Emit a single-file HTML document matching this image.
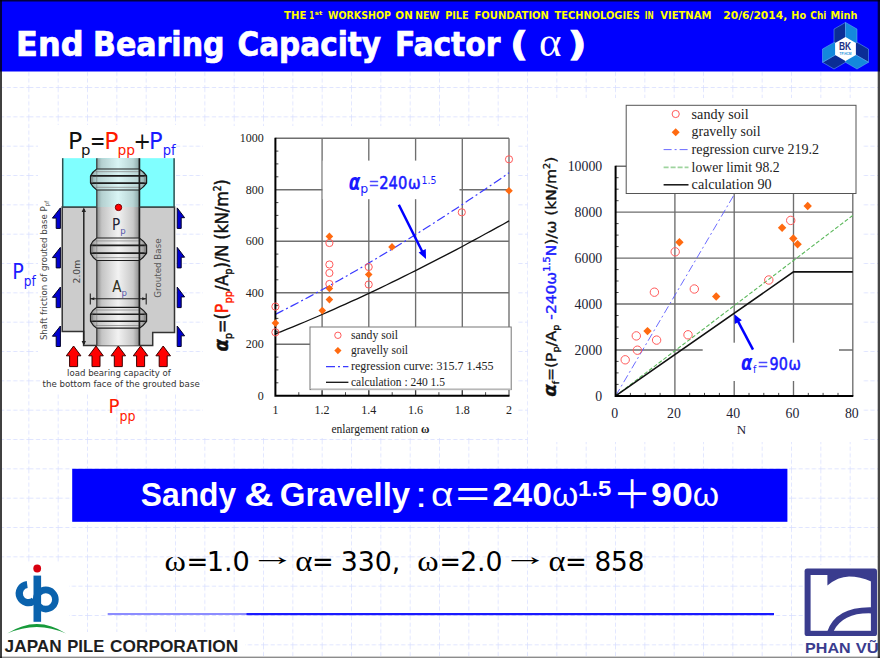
<!DOCTYPE html>
<html lang="en"><head><meta charset="utf-8"><title>End Bearing Capacity Factor</title>
<style>html,body{margin:0;padding:0;background:#fff;overflow:hidden}svg{display:block}.t{font-family:"DejaVu Sans Condensed","DejaVu Sans","Liberation Sans",sans-serif}.w{font-family:"DejaVu Sans","Liberation Sans",sans-serif}.l{font-family:"Liberation Sans",sans-serif}.s{font-family:"Liberation Serif",serif}.j{font-family:"Liberation Sans","Noto Sans CJK JP",sans-serif}</style></head><body>
<svg width="880" height="658" viewBox="0 0 880 658">
<defs>
<linearGradient id="pile" x1="0" x2="1" y1="0" y2="0"><stop offset="0" stop-color="#8c8c8c"/><stop offset="0.12" stop-color="#c4c4c4"/><stop offset="0.5" stop-color="#f2f2f2"/><stop offset="0.85" stop-color="#c8c8c8"/><stop offset="1" stop-color="#8a8a8a"/></linearGradient>
<linearGradient id="hl" x1="0" x2="1" y1="0" y2="0"><stop offset="0" stop-color="#fff"/><stop offset="0.18" stop-color="#c9c9ff"/><stop offset="0.45" stop-color="#2a2aff"/><stop offset="1" stop-color="#0000ff"/></linearGradient>
<pattern id="grid" width="29.333" height="29.333" patternUnits="userSpaceOnUse"><path d="M29.2 0V29.333M0 29.2H29.333" stroke="#d6ddff" stroke-width="1.1" stroke-dasharray="4.2 2.4" fill="none"/></pattern>
</defs>
<rect width="880" height="658" fill="#fff"/>
<rect x="2" y="72" width="876" height="584" fill="url(#grid)"/>
<rect x="0" y="0" width="880" height="71.5" fill="#0000fe"/>
<text class="w" x="284.10" y="18.60" font-size="9.8" fill="#ffff00" font-weight="bold" textLength="22.25" lengthAdjust="spacingAndGlyphs">THE</text>
<text class="w" x="309.19" y="18.60" font-size="9.8" fill="#ffff00" font-weight="bold" textLength="4.88" lengthAdjust="spacingAndGlyphs">1</text>
<text class="w" x="328.06" y="18.60" font-size="9.8" fill="#ffff00" font-weight="bold" textLength="62.88" lengthAdjust="spacingAndGlyphs">WORKSHOP</text>
<text class="w" x="395.37" y="18.60" font-size="9.8" fill="#ffff00" font-weight="bold" textLength="17.44" lengthAdjust="spacingAndGlyphs">ON</text>
<text class="w" x="415.17" y="18.60" font-size="9.8" fill="#ffff00" font-weight="bold" textLength="24.22" lengthAdjust="spacingAndGlyphs">NEW</text>
<text class="w" x="445.13" y="18.60" font-size="9.8" fill="#ffff00" font-weight="bold" textLength="23.51" lengthAdjust="spacingAndGlyphs">PILE</text>
<text class="w" x="474.40" y="18.60" font-size="9.8" fill="#ffff00" font-weight="bold" textLength="74.61" lengthAdjust="spacingAndGlyphs">FOUNDATION</text>
<text class="w" x="554.60" y="18.60" font-size="9.8" fill="#ffff00" font-weight="bold" textLength="85.27" lengthAdjust="spacingAndGlyphs">TECHNOLOGIES</text>
<text class="w" x="644.74" y="18.60" font-size="9.8" fill="#ffff00" font-weight="bold" textLength="8.96" lengthAdjust="spacingAndGlyphs">IN</text>
<text class="w" x="660.20" y="18.60" font-size="9.8" fill="#ffff00" font-weight="bold" textLength="51.19" lengthAdjust="spacingAndGlyphs">VIETNAM</text>
<text class="w" x="723.28" y="18.60" font-size="9.8" fill="#ffff00" font-weight="bold" textLength="63.94" lengthAdjust="spacingAndGlyphs">20/6/2014,</text>
<text class="w" x="791.33" y="18.60" font-size="9.8" fill="#ffff00" font-weight="bold" textLength="14.75" lengthAdjust="spacingAndGlyphs">Ho</text>
<text class="w" x="810.34" y="18.60" font-size="9.8" fill="#ffff00" font-weight="bold" textLength="16.01" lengthAdjust="spacingAndGlyphs">Chi</text>
<text class="w" x="830.52" y="18.60" font-size="9.8" fill="#ffff00" font-weight="bold" textLength="26.95" lengthAdjust="spacingAndGlyphs">Minh</text>
<text class="w" x="314.89" y="14.60" font-size="5.6" fill="#ffff00" font-weight="bold" textLength="7.56" lengthAdjust="spacingAndGlyphs">st</text>
<text class="t" x="16.13" y="56.30" font-size="34" fill="#fff" font-weight="bold" textLength="67.36" lengthAdjust="spacingAndGlyphs" stroke="#fff" stroke-width="0.7">End</text>
<text class="t" x="93.10" y="56.30" font-size="34" fill="#fff" font-weight="bold" textLength="131.42" lengthAdjust="spacingAndGlyphs" stroke="#fff" stroke-width="0.7">Bearing</text>
<text class="t" x="237.55" y="56.30" font-size="34" fill="#fff" font-weight="bold" textLength="143.57" lengthAdjust="spacingAndGlyphs" stroke="#fff" stroke-width="0.7">Capacity</text>
<text class="t" x="395.03" y="56.30" font-size="34" fill="#fff" font-weight="bold" textLength="105.31" lengthAdjust="spacingAndGlyphs" stroke="#fff" stroke-width="0.7">Factor</text>
<text class="t" x="509.97" y="56.30" font-size="34" fill="#fff" font-weight="bold" textLength="18.27" lengthAdjust="spacingAndGlyphs" stroke="#fff" stroke-width="0.7">(</text>
<text class="t" x="567.56" y="56.30" font-size="34" fill="#fff" font-weight="bold" textLength="19.22" lengthAdjust="spacingAndGlyphs" stroke="#fff" stroke-width="0.7">)</text>
<text class="s" x="539.03" y="55.60" font-size="41" fill="#fff" textLength="22.46" lengthAdjust="spacingAndGlyphs">α</text>
<g stroke="#6fb7f5" stroke-width="0.5" stroke-linejoin="round">
<polygon points="845.5,22.4 834.0,29.1 834.0,42.4 845.5,49.0" fill="#0b2d96"/>
<polygon points="845.5,22.4 857.0,29.1 857.0,42.4 845.5,49.0" fill="#1488dc"/>
<polygon points="868.5,62.3 868.5,49.0 857.0,42.3 845.5,49.0" fill="#0b2d96"/>
<polygon points="868.5,62.3 857.0,69.0 845.5,62.3 845.5,49.0" fill="#1488dc"/>
<polygon points="822.5,62.3 834.0,69.0 845.5,62.3 845.5,49.0" fill="#0b2d96"/>
<polygon points="822.5,62.3 822.5,49.0 834.0,42.4 845.5,49.0" fill="#1488dc"/>
</g>
<polygon points="845.5,37.0 855.9,43.0 855.9,55.0 845.5,61.0 835.1,55.0 835.1,43.0" fill="#fff"/>
<text class="l" x="838.89" y="50.00" font-size="10.4" fill="#1c2f86" font-weight="bold" textLength="12.20" lengthAdjust="spacingAndGlyphs">BK</text>
<text class="l" x="839.60" y="54.60" font-size="3.4" fill="#2a93dd" font-weight="bold" textLength="11.92" lengthAdjust="spacingAndGlyphs">TP.HCM</text>
<rect x="38" y="125" width="138" height="242" fill="#fff"/><rect x="42" y="366" width="158" height="26" fill="#fff"/>
<text class="t" x="67.96" y="148.70" font-size="22.5" fill="#111" textLength="14.26" lengthAdjust="spacingAndGlyphs">P</text>
<text class="t" x="81.12" y="155.30" font-size="14.5" fill="#111" textLength="9.43" lengthAdjust="spacingAndGlyphs">p</text>
<text class="t" x="90.07" y="148.70" font-size="22.5" fill="#111" textLength="15.43" lengthAdjust="spacingAndGlyphs">=</text>
<text class="t" x="104.36" y="148.70" font-size="22.5" fill="#ff1a00" textLength="14.26" lengthAdjust="spacingAndGlyphs">P</text>
<text class="t" x="117.61" y="155.30" font-size="14.5" fill="#ff1a00" textLength="17.52" lengthAdjust="spacingAndGlyphs">pp</text>
<text class="t" x="133.52" y="148.70" font-size="22.5" fill="#111" textLength="17.43" lengthAdjust="spacingAndGlyphs">+</text>
<text class="t" x="149.07" y="148.70" font-size="22.5" fill="#1a1aff" textLength="13.62" lengthAdjust="spacingAndGlyphs">P</text>
<text class="t" x="162.68" y="155.30" font-size="14.5" fill="#1a1aff" textLength="12.87" lengthAdjust="spacingAndGlyphs">pf</text>
<path d="M62.2 207 H174.5 V332.5 H152.7 V345.5 H83.6 V331.5 H62.2 Z" fill="#cccccc" stroke="#333" stroke-width="1.5"/>
<rect x="62.2" y="158.2" width="112.3" height="48.8" fill="#80ffff"/>
<rect x="96.7" y="158.2" width="42.9" height="187.3" fill="url(#pile)"/>
<path d="M96.8 169.0 L139.3 169.0 Q143.5 171.6 146.6 175.9 L146.6 183.1 Q143.5 187.4 139.3 190.0 L96.8 190.0 Q92.6 187.4 90.5 183.1 L90.5 175.9 Q92.6 171.6 96.8 169.0 Z" fill="url(#pile)"/>
<rect x="62.2" y="158.2" width="112.3" height="48.8" fill="#80ffff" fill-opacity="0.22"/>
<path d="M96.8 169.0 L139.3 169.0 Q143.5 171.6 146.6 175.9 L146.6 183.1 Q143.5 187.4 139.3 190.0 L96.8 190.0 Q92.6 187.4 90.5 183.1 L90.5 175.9 Q92.6 171.6 96.8 169.0 Z" fill="none" stroke="#1c1c1c" stroke-width="1.2" stroke-linejoin="round"/>
<path d="M95.3 171.7 H140.8 M95.3 187.3 H140.8" stroke="#8a8a8a" stroke-width="0.8" fill="none"/>
<path d="M90.5 175.9 H146.6 M90.5 183.1 H146.6" stroke="#1c1c1c" stroke-width="1.6" fill="none"/>
<path d="M92.1 175.9 V183.1 M145.0 175.9 V183.1" stroke="#777" stroke-width="0.8" fill="none"/>
<path d="M96.8 238.0 L139.3 238.0 Q143.5 240.6 146.6 245.4 L146.6 253.1 Q143.5 257.9 139.3 260.5 L96.8 260.5 Q92.6 257.9 90.5 253.1 L90.5 245.4 Q92.6 240.6 96.8 238.0 Z" fill="url(#pile)"/>
<path d="M96.8 238.0 L139.3 238.0 Q143.5 240.6 146.6 245.4 L146.6 253.1 Q143.5 257.9 139.3 260.5 L96.8 260.5 Q92.6 257.9 90.5 253.1 L90.5 245.4 Q92.6 240.6 96.8 238.0 Z" fill="none" stroke="#1c1c1c" stroke-width="1.2" stroke-linejoin="round"/>
<path d="M95.3 240.9 H140.8 M95.3 257.6 H140.8" stroke="#8a8a8a" stroke-width="0.8" fill="none"/>
<path d="M90.5 245.4 H146.6 M90.5 253.1 H146.6" stroke="#1c1c1c" stroke-width="1.6" fill="none"/>
<path d="M92.1 245.4 V253.1 M145.0 245.4 V253.1" stroke="#777" stroke-width="0.8" fill="none"/>
<path d="M96.8 307.3 L139.3 307.3 Q143.5 309.9 146.6 314.2 L146.6 321.3 Q143.5 325.6 139.3 328.2 L96.8 328.2 Q92.6 325.6 90.5 321.3 L90.5 314.2 Q92.6 309.9 96.8 307.3 Z" fill="url(#pile)"/>
<path d="M96.8 307.3 L139.3 307.3 Q143.5 309.9 146.6 314.2 L146.6 321.3 Q143.5 325.6 139.3 328.2 L96.8 328.2 Q92.6 325.6 90.5 321.3 L90.5 314.2 Q92.6 309.9 96.8 307.3 Z" fill="none" stroke="#1c1c1c" stroke-width="1.2" stroke-linejoin="round"/>
<path d="M95.3 310.0 H140.8 M95.3 325.5 H140.8" stroke="#8a8a8a" stroke-width="0.8" fill="none"/>
<path d="M90.5 314.2 H146.6 M90.5 321.3 H146.6" stroke="#1c1c1c" stroke-width="1.6" fill="none"/>
<path d="M92.1 314.2 V321.3 M145.0 314.2 V321.3" stroke="#777" stroke-width="0.8" fill="none"/>
<path d="M96.8 158.2V169M96.8 190V238M96.8 260.5V307.3M96.8 328.2V345.5" stroke="#333" stroke-width="1.2" fill="none"/>
<path d="M96.8 169V190M96.8 238V260.5M96.8 307.3V328.2" stroke="#555" stroke-width="0.8" stroke-opacity="0.5" fill="none"/>
<line x1="139.4" y1="158.2" x2="139.4" y2="345.5" stroke="#1c1c1c" stroke-width="1.7"/>
<line x1="62.7" y1="158.2" x2="62.7" y2="207" stroke="#2f4f4f" stroke-width="1.5"/>
<line x1="174.1" y1="158.2" x2="174.1" y2="207" stroke="#2f4f4f" stroke-width="1.5"/>
<line x1="62.2" y1="207" x2="96.7" y2="207" stroke="#3a4a4a" stroke-width="1.4"/>
<line x1="139.6" y1="207" x2="174.5" y2="207" stroke="#3a4a4a" stroke-width="1.4"/>
<circle cx="118.5" cy="207.4" r="3.2" fill="#ff0000" stroke="#7a0000" stroke-width="1"/>
<text class="t" x="112" y="229.5" font-size="15" fill="#223">P<tspan font-size="9.5" dy="4" fill="#55a">p</tspan></text>
<text class="t" x="112.3" y="291.8" font-size="15" fill="#332">A<tspan font-size="9.5" dy="4" fill="#55a">p</tspan></text>
<line x1="83.8" y1="209" x2="83.8" y2="344" stroke="#222" stroke-width="1.5"/>
<path d="M83.8 207.5 l-2.2 4.5 h4.4z M83.8 345.5 l-2.2 -4.5 h4.4z" fill="#222"/>
<path d="M90 298.7 H146.4 M90.3 293.6 V304.5 M146.2 293.6 V304.5" stroke="#222" stroke-width="1.1" fill="none"/>
<path d="M90.3 298.7 l4 -1.5 v3z M146.2 298.7 l-4 -1.5 v3z" fill="#222"/>
<text class="t" transform="translate(80.00,283.47) rotate(-90)" font-size="9.5" fill="#444" textLength="23.59" lengthAdjust="spacingAndGlyphs">2.0m</text>
<text class="t" transform="translate(161.20,297.72) rotate(-90)" font-size="9.3" fill="#555" textLength="59.30" lengthAdjust="spacingAndGlyphs">Grouted Base</text>
<text class="t" transform="translate(47.40,340.10) rotate(-90)" font-size="9.5" fill="#444" textLength="133.73" lengthAdjust="spacingAndGlyphs">Shaft friction of grouted base P</text>
<text class="t" transform="translate(49.20,206.31) rotate(-90)" font-size="6.0" fill="#444" textLength="5.46" lengthAdjust="spacingAndGlyphs">pf</text>
<polygon points="60.4,207.9 60.4,228.4 56.2,228.4 56.2,218.1 52.4,218.1" fill="#0000d0" stroke="#00002a" stroke-width="1" stroke-linejoin="miter"/>
<polygon points="177.2,207.9 177.2,228.4 181.2,228.4 181.2,217.7 184.6,217.7" fill="#0000d0" stroke="#00002a" stroke-width="1" stroke-linejoin="miter"/>
<polygon points="60.4,247.4 60.4,267.9 56.2,267.9 56.2,257.6 52.4,257.6" fill="#0000d0" stroke="#00002a" stroke-width="1" stroke-linejoin="miter"/>
<polygon points="177.2,247.4 177.2,267.9 181.2,267.9 181.2,257.2 184.6,257.2" fill="#0000d0" stroke="#00002a" stroke-width="1" stroke-linejoin="miter"/>
<polygon points="60.4,287.1 60.4,307.6 56.2,307.6 56.2,297.3 52.4,297.3" fill="#0000d0" stroke="#00002a" stroke-width="1" stroke-linejoin="miter"/>
<polygon points="177.2,287.1 177.2,307.6 181.2,307.6 181.2,296.9 184.6,296.9" fill="#0000d0" stroke="#00002a" stroke-width="1" stroke-linejoin="miter"/>
<polygon points="60.4,326.0 60.4,346.5 56.2,346.5 56.2,336.2 52.4,336.2" fill="#0000d0" stroke="#00002a" stroke-width="1" stroke-linejoin="miter"/>
<polygon points="177.2,326.0 177.2,346.5 181.2,346.5 181.2,335.8 184.6,335.8" fill="#0000d0" stroke="#00002a" stroke-width="1" stroke-linejoin="miter"/>
<polygon points="73.6,346.0 80.9,355.8 77.6,355.8 77.6,366.6 69.6,366.6 69.6,355.8 66.3,355.8" fill="#ff0000" stroke="#3a0000" stroke-width="1.0" stroke-linejoin="miter"/>
<polygon points="96.0,346.0 103.3,355.8 100.0,355.8 100.0,366.6 92.0,366.6 92.0,355.8 88.7,355.8" fill="#ff0000" stroke="#3a0000" stroke-width="1.0" stroke-linejoin="miter"/>
<polygon points="118.3,346.0 125.6,355.8 122.3,355.8 122.3,366.6 114.3,366.6 114.3,355.8 111.0,355.8" fill="#ff0000" stroke="#3a0000" stroke-width="1.0" stroke-linejoin="miter"/>
<polygon points="140.6,346.0 147.9,355.8 144.6,355.8 144.6,366.6 136.6,366.6 136.6,355.8 133.3,355.8" fill="#ff0000" stroke="#3a0000" stroke-width="1.0" stroke-linejoin="miter"/>
<polygon points="163.2,346.0 170.5,355.8 167.2,355.8 167.2,366.6 159.2,366.6 159.2,355.8 155.9,355.8" fill="#ff0000" stroke="#3a0000" stroke-width="1.0" stroke-linejoin="miter"/>
<text class="t" x="67.14" y="376.00" font-size="9.4" fill="#333" textLength="103.65" lengthAdjust="spacingAndGlyphs">load bearing capacity of</text>
<text class="t" x="42.54" y="386.80" font-size="9.4" fill="#333" textLength="157.19" lengthAdjust="spacingAndGlyphs">the bottom face of the grouted base</text>
<text class="t" x="108.5" y="412.6" font-size="20.3" fill="#ff1a00">P<tspan font-size="14" dy="8.2">pp</tspan></text>
<text class="t" x="12.2" y="279.1" font-size="21.3" fill="#1a1aff">P<tspan font-size="13.5" dy="7">pf</tspan></text>
<rect x="203" y="126" width="314" height="312" fill="#fff"/>
<path d="M322.1 138.2V395.7M368.8 138.2V395.7M415.6 138.2V395.7M462.3 138.2V395.7M509.0 138.2V395.7M275.4 344.2H509.0M275.4 292.7H509.0M275.4 241.2H509.0M275.4 189.7H509.0M275.4 138.2H509.0" stroke="#6e6e6e" stroke-width="1.35" fill="none"/>
<path d="M275.4 382.8h3M275.4 369.9h3M275.4 357.1h3M275.4 331.3h3M275.4 318.4h3M275.4 305.6h3M275.4 279.8h3M275.4 266.9h3M275.4 254.1h3M275.4 228.3h3M275.4 215.4h3M275.4 202.6h3M275.4 176.8h3M275.4 163.9h3M275.4 151.1h3M298.8 395.7v-3.5M322.1 395.7v-5M345.5 395.7v-3.5M368.8 395.7v-5M392.2 395.7v-3.5M415.6 395.7v-5M438.9 395.7v-3.5M462.3 395.7v-5M485.6 395.7v-3.5" stroke="#333" stroke-width="0.9" fill="none"/>
<rect x="322.7" y="160.6" width="136.8" height="38.6" fill="#fff"/>
<path d="M275.4 314.4 L281.2 311.4 L287.1 308.4 L292.9 305.4 L298.8 302.3 L304.6 299.2 L310.4 296.1 L316.3 292.9 L322.1 289.7 L328.0 286.5 L333.8 283.2 L339.6 279.9 L345.5 276.6 L351.3 273.3 L357.2 269.9 L363.0 266.5 L368.8 263.1 L374.7 259.6 L380.5 256.1 L386.4 252.6 L392.2 249.1 L398.0 245.5 L403.9 241.9 L409.7 238.3 L415.6 234.6 L421.4 230.9 L427.2 227.2 L433.1 223.5 L438.9 219.8 L444.8 216.0 L450.6 212.2 L456.4 208.4 L462.3 204.5 L468.1 200.6 L474.0 196.7 L479.8 192.8 L485.6 188.9 L491.5 184.9 L497.3 180.9 L503.2 176.9 L509.0 172.8" stroke="#3a3aff" stroke-width="1.2" stroke-dasharray="9 3 2 3" fill="none"/>
<path d="M275.4 333.9 L281.2 331.6 L287.1 329.2 L292.9 326.8 L298.8 324.4 L304.6 322.0 L310.4 319.5 L316.3 317.0 L322.1 314.5 L328.0 311.9 L333.8 309.3 L339.6 306.7 L345.5 304.1 L351.3 301.4 L357.2 298.8 L363.0 296.1 L368.8 293.3 L374.7 290.6 L380.5 287.8 L386.4 285.0 L392.2 282.2 L398.0 279.3 L403.9 276.4 L409.7 273.5 L415.6 270.6 L421.4 267.7 L427.2 264.7 L433.1 261.7 L438.9 258.7 L444.8 255.7 L450.6 252.6 L456.4 249.6 L462.3 246.5 L468.1 243.3 L474.0 240.2 L479.8 237.0 L485.6 233.8 L491.5 230.6 L497.3 227.4 L503.2 224.2 L509.0 220.9" stroke="#111" stroke-width="1.3" fill="none"/>
<path d="M275.4 137.7V395.7H509.5" stroke="#000" stroke-width="2" fill="none"/>
<circle cx="275.4" cy="306.6" r="3.6" fill="none" stroke="#ff5a5a" stroke-width="1.0"/>
<circle cx="275.4" cy="332.3" r="3.6" fill="none" stroke="#ff5a5a" stroke-width="1.0"/>
<circle cx="329.4" cy="243.0" r="3.6" fill="none" stroke="#ff5a5a" stroke-width="1.0"/>
<circle cx="329.4" cy="264.5" r="3.6" fill="none" stroke="#ff5a5a" stroke-width="1.0"/>
<circle cx="329.4" cy="273.0" r="3.6" fill="none" stroke="#ff5a5a" stroke-width="1.0"/>
<circle cx="329.4" cy="284.0" r="3.6" fill="none" stroke="#ff5a5a" stroke-width="1.0"/>
<circle cx="368.7" cy="267.0" r="3.6" fill="none" stroke="#ff5a5a" stroke-width="1.0"/>
<circle cx="368.7" cy="284.5" r="3.6" fill="none" stroke="#ff5a5a" stroke-width="1.0"/>
<circle cx="461.8" cy="212.3" r="3.6" fill="none" stroke="#ff5a5a" stroke-width="1.0"/>
<circle cx="509.0" cy="159.3" r="3.6" fill="none" stroke="#ff5a5a" stroke-width="1.0"/>
<path d="M275.4 319.3 l3.8 3.8 l-3.8 3.8 l-3.8 -3.8 z" fill="#ff6a10"/>
<path d="M322.3 306.8 l3.8 3.8 l-3.8 3.8 l-3.8 -3.8 z" fill="#ff6a10"/>
<path d="M329.4 232.6 l3.8 3.8 l-3.8 3.8 l-3.8 -3.8 z" fill="#ff6a10"/>
<path d="M329.4 284.7 l3.8 3.8 l-3.8 3.8 l-3.8 -3.8 z" fill="#ff6a10"/>
<path d="M329.4 295.8 l3.8 3.8 l-3.8 3.8 l-3.8 -3.8 z" fill="#ff6a10"/>
<path d="M368.7 270.7 l3.8 3.8 l-3.8 3.8 l-3.8 -3.8 z" fill="#ff6a10"/>
<path d="M392.0 243.1 l3.8 3.8 l-3.8 3.8 l-3.8 -3.8 z" fill="#ff6a10"/>
<path d="M509.0 186.9 l3.8 3.8 l-3.8 3.8 l-3.8 -3.8 z" fill="#ff6a10"/>
<rect x="310" y="327" width="201.2" height="62.6" fill="#fff" stroke="#777" stroke-width="1"/><path d="M311 389H511" stroke="#c8c8c8" stroke-width="1.6"/>
<circle cx="337.9" cy="335.3" r="3.2" fill="none" stroke="#ff5a5a" stroke-width="1.0"/>
<path d="M337.9 347.0 l3.6 3.6 l-3.6 3.6 l-3.6 -3.6 z" fill="#ff6a10"/>
<path d="M326 366.6H348.4" stroke="#3a3aff" stroke-width="1.2" stroke-dasharray="9 3 2 3" fill="none"/>
<path d="M326 382.3H348.4" stroke="#111" stroke-width="1.3" fill="none"/>
<text class="s" x="351" y="339.0" font-size="12" fill="#222" textLength="47" lengthAdjust="spacingAndGlyphs">sandy soil</text>
<text class="s" x="351" y="354.1" font-size="12" fill="#222" textLength="57" lengthAdjust="spacingAndGlyphs">gravelly soil</text>
<text class="s" x="351" y="370.4" font-size="12" fill="#222" textLength="142.5" lengthAdjust="spacingAndGlyphs">regression curve: 315.7 1.455</text>
<text class="s" x="351" y="386.0" font-size="12" fill="#222" textLength="94" lengthAdjust="spacingAndGlyphs">calculation : 240 1.5</text>
<text class="s" x="263.8" y="399.8" font-size="12" fill="#222" text-anchor="end">0</text>
<text class="s" x="263.8" y="348.3" font-size="12" fill="#222" text-anchor="end">200</text>
<text class="s" x="263.8" y="296.8" font-size="12" fill="#222" text-anchor="end">400</text>
<text class="s" x="263.8" y="245.3" font-size="12" fill="#222" text-anchor="end">600</text>
<text class="s" x="263.8" y="193.8" font-size="12" fill="#222" text-anchor="end">800</text>
<text class="s" x="263.8" y="142.3" font-size="12" fill="#222" text-anchor="end">1000</text>
<text class="s" x="275.4" y="413.9" font-size="12" fill="#222" text-anchor="middle">1</text>
<text class="s" x="322.1" y="413.9" font-size="12" fill="#222" text-anchor="middle">1.2</text>
<text class="s" x="368.8" y="413.9" font-size="12" fill="#222" text-anchor="middle">1.4</text>
<text class="s" x="415.6" y="413.9" font-size="12" fill="#222" text-anchor="middle">1.6</text>
<text class="s" x="462.3" y="413.9" font-size="12" fill="#222" text-anchor="middle">1.8</text>
<text class="s" x="509.0" y="413.9" font-size="12" fill="#222" text-anchor="middle">2</text>
<text class="s" x="331.4" y="432.6" font-size="11.6" fill="#222" textLength="98" lengthAdjust="spacingAndGlyphs">enlargement ration <tspan font-weight="bold">ω</tspan></text>
<text class="t" transform="translate(227.8,351.6) rotate(-90)" font-size="17.8" fill="#111" stroke="#111" stroke-width="0.45" textLength="172.4" lengthAdjust="spacingAndGlyphs"><tspan font-weight="bold" font-style="italic" font-size="20">α</tspan><tspan font-size="11" dy="4.5">p</tspan><tspan dy="-4.5">=(</tspan><tspan fill="#ff1a00" stroke="#ff1a00">P</tspan><tspan fill="#ff1a00" stroke="#ff1a00" font-size="11" dy="4.5">pp</tspan><tspan dy="-4.5">/A</tspan><tspan font-size="11" dy="4.5">p</tspan><tspan dy="-4.5">)/N (kN/m</tspan><tspan font-size="10" dy="-7">2</tspan><tspan dy="7">)</tspan></text>
<text class="t" x="348.78" y="189.90" font-size="22.5" fill="#1a1aff" font-weight="bold" font-style="italic" textLength="11.55" lengthAdjust="spacingAndGlyphs">α</text>
<text class="t" x="360.34" y="192.60" font-size="11.5" fill="#1a1aff" textLength="7.95" lengthAdjust="spacingAndGlyphs">p</text>
<text class="t" x="368.48" y="189.20" font-size="17.6" fill="#4a4aff" textLength="10.76" lengthAdjust="spacingAndGlyphs">=</text>
<text class="t" x="379.26" y="189.20" font-size="17.6" fill="#1a1aff" textLength="27.99" lengthAdjust="spacingAndGlyphs" stroke="#1a1aff" stroke-width="0.5">240</text>
<text class="t" x="407.95" y="189.20" font-size="17.6" fill="#1a1aff" textLength="12.63" lengthAdjust="spacingAndGlyphs" stroke="#1a1aff" stroke-width="0.5">ω</text>
<text class="t" x="421.56" y="183.70" font-size="11.3" fill="#1a1aff" textLength="14.81" lengthAdjust="spacingAndGlyphs">1.5</text>
<path d="M398.8 204.7 L423.6 254.2" stroke="#0000ff" stroke-width="2.5" fill="none"/>
<polygon points="426.0,259.0 418.6,252.6 425.8,249.0" fill="#0000ff"/>
<rect x="527.8" y="98" width="334.2" height="344" fill="#fff"/>
<path d="M674.9 166.2V395.9M734.2 166.2V395.9M793.5 166.2V395.9M852.8 166.2V395.9M615.6 350.0H852.8M615.6 304.0H852.8M615.6 258.1H852.8M615.6 212.1H852.8M615.6 166.2H852.8" stroke="#6e6e6e" stroke-width="1.35" fill="none"/>
<path d="M615.6 384.4h3M615.6 372.9h3M615.6 361.4h3M615.6 338.5h3M615.6 327.0h3M615.6 315.5h3M615.6 292.5h3M615.6 281.0h3M615.6 269.6h3M615.6 246.6h3M615.6 235.1h3M615.6 223.6h3M615.6 200.7h3M615.6 189.2h3M615.6 177.7h3M630.4 395.9v-3M645.2 395.9v-3M660.1 395.9v-3M689.7 395.9v-3M704.5 395.9v-3M719.4 395.9v-3M749.0 395.9v-3M763.8 395.9v-3M778.7 395.9v-3M808.3 395.9v-3M823.1 395.9v-3M838.0 395.9v-3" stroke="#333" stroke-width="0.9" fill="none"/>
<rect x="702.7" y="342.7" width="136.3" height="38.3" fill="#fff"/>
<path d="M615.6 395.9L737.2 189.5" stroke="#5a5aff" stroke-width="0.9" stroke-dasharray="8 3 2 3" fill="none"/>
<path d="M615.6 395.9L852.8 215.4" stroke="#5cb85c" stroke-width="1.1" stroke-dasharray="4 2" fill="none"/>
<path d="M615.6 395.9L793.5 271.9H852.8" stroke="#111" stroke-width="1.6" fill="none"/>
<path d="M615.6 165.7V395.9H853.3" stroke="#000" stroke-width="2" fill="none"/>
<circle cx="625.2" cy="359.8" r="4.2" fill="none" stroke="#ff5a5a" stroke-width="1.0"/>
<circle cx="636.3" cy="335.9" r="4.2" fill="none" stroke="#ff5a5a" stroke-width="1.0"/>
<circle cx="637.4" cy="350.2" r="4.2" fill="none" stroke="#ff5a5a" stroke-width="1.0"/>
<circle cx="654.4" cy="292.2" r="4.2" fill="none" stroke="#ff5a5a" stroke-width="1.0"/>
<circle cx="656.6" cy="340.1" r="4.2" fill="none" stroke="#ff5a5a" stroke-width="1.0"/>
<circle cx="675.2" cy="251.8" r="4.2" fill="none" stroke="#ff5a5a" stroke-width="1.0"/>
<circle cx="688.0" cy="334.8" r="4.2" fill="none" stroke="#ff5a5a" stroke-width="1.0"/>
<circle cx="694.3" cy="289.0" r="4.2" fill="none" stroke="#ff5a5a" stroke-width="1.0"/>
<circle cx="768.8" cy="280.0" r="4.2" fill="none" stroke="#ff5a5a" stroke-width="1.0"/>
<circle cx="790.7" cy="220.4" r="4.2" fill="none" stroke="#ff5a5a" stroke-width="1.0"/>
<path d="M647.5 326.9 l4.2 4.2 l-4.2 4.2 l-4.2 -4.2 z" fill="#ff6a10"/>
<path d="M679.4 238.0 l4.2 4.2 l-4.2 4.2 l-4.2 -4.2 z" fill="#ff6a10"/>
<path d="M716.2 292.3 l4.2 4.2 l-4.2 4.2 l-4.2 -4.2 z" fill="#ff6a10"/>
<path d="M782.1 223.6 l4.2 4.2 l-4.2 4.2 l-4.2 -4.2 z" fill="#ff6a10"/>
<path d="M793.3 234.3 l4.2 4.2 l-4.2 4.2 l-4.2 -4.2 z" fill="#ff6a10"/>
<path d="M797.6 240.1 l4.2 4.2 l-4.2 4.2 l-4.2 -4.2 z" fill="#ff6a10"/>
<path d="M807.7 201.8 l4.2 4.2 l-4.2 4.2 l-4.2 -4.2 z" fill="#ff6a10"/>
<rect x="626.2" y="105.3" width="229.8" height="88.2" fill="#fff" stroke="#555" stroke-width="1"/>
<circle cx="675.7" cy="114.0" r="3.6" fill="none" stroke="#ff5a5a" stroke-width="1.0"/>
<path d="M675.7 128.2 l4.0 4.0 l-4.0 4.0 l-4.0 -4.0 z" fill="#ff6a10"/>
<path d="M663.6 149.6H688.5" stroke="#5a5aff" stroke-width="0.9" stroke-dasharray="8 3 2 3" fill="none"/>
<path d="M663.6 167.3H688.5" stroke="#9ed49e" stroke-width="1.8" stroke-dasharray="5 2" fill="none"/>
<path d="M663.6 184.8H688.5" stroke="#111" stroke-width="1.5" fill="none"/>
<text class="s" x="691.6" y="118.8" font-size="14" fill="#222" textLength="57" lengthAdjust="spacingAndGlyphs">sandy soil</text>
<text class="s" x="691.6" y="136.4" font-size="14" fill="#222" textLength="69" lengthAdjust="spacingAndGlyphs">gravelly soil</text>
<text class="s" x="691.6" y="153.9" font-size="14" fill="#222" textLength="127.5" lengthAdjust="spacingAndGlyphs">regression curve 219.2</text>
<text class="s" x="691.6" y="171.6" font-size="14" fill="#222" textLength="88" lengthAdjust="spacingAndGlyphs">lower limit 98.2</text>
<text class="s" x="691.6" y="189.2" font-size="14" fill="#222" textLength="80" lengthAdjust="spacingAndGlyphs">calculation 90</text>
<text class="s" x="602.2" y="400.6" font-size="13.8" fill="#223" text-anchor="end">0</text>
<text class="s" x="602.2" y="354.7" font-size="13.8" fill="#223" text-anchor="end">2000</text>
<text class="s" x="602.2" y="308.7" font-size="13.8" fill="#223" text-anchor="end">4000</text>
<text class="s" x="602.2" y="262.8" font-size="13.8" fill="#223" text-anchor="end">6000</text>
<text class="s" x="602.2" y="216.8" font-size="13.8" fill="#223" text-anchor="end">8000</text>
<text class="s" x="602.2" y="170.9" font-size="13.8" fill="#223" text-anchor="end">10000</text>
<text class="s" x="614.6" y="417.8" font-size="13.8" fill="#223" text-anchor="middle">0</text>
<text class="s" x="673.9" y="417.8" font-size="13.8" fill="#223" text-anchor="middle">20</text>
<text class="s" x="733.2" y="417.8" font-size="13.8" fill="#223" text-anchor="middle">40</text>
<text class="s" x="792.5" y="417.8" font-size="13.8" fill="#223" text-anchor="middle">60</text>
<text class="s" x="851.8" y="417.8" font-size="13.8" fill="#223" text-anchor="middle">80</text>
<text class="s" x="741.5" y="433.6" font-size="13" fill="#223" text-anchor="middle">N</text>
<text class="w" transform="translate(555.7,396.8) rotate(-90)" font-size="14.4" fill="#111" stroke="#111" stroke-width="0.35" textLength="240" lengthAdjust="spacingAndGlyphs"><tspan font-weight="bold" font-style="italic" font-size="17">α</tspan><tspan font-size="9" dy="3.5">f</tspan><tspan dy="-3.5">=(P</tspan><tspan font-size="9" dy="3.5">p</tspan><tspan dy="-3.5">/A</tspan><tspan font-size="9" dy="3.5">p</tspan><tspan dy="-3.5"> </tspan><tspan fill="#1a1aff" stroke="#1a1aff">-240ω</tspan><tspan fill="#1a1aff" stroke="#1a1aff" font-size="9" dy="-6">1.5</tspan><tspan fill="#1a1aff" stroke="#1a1aff" dy="6">N</tspan>)/ω (kN/m<tspan font-size="9" dy="-6">2</tspan><tspan dy="6">)</tspan></text>
<text class="t" x="740.94" y="369.60" font-size="21" fill="#1a1aff" font-weight="bold" font-style="italic" textLength="11.34" lengthAdjust="spacingAndGlyphs">α</text>
<text class="t" x="752.96" y="372.60" font-size="11" fill="#1a1aff" textLength="3.30" lengthAdjust="spacingAndGlyphs">f</text>
<text class="t" x="757.32" y="369.50" font-size="17.6" fill="#4a4aff" textLength="11.29" lengthAdjust="spacingAndGlyphs">=</text>
<text class="t" x="769.60" y="369.50" font-size="17.6" fill="#1a1aff" textLength="18.25" lengthAdjust="spacingAndGlyphs" stroke="#1a1aff" stroke-width="0.5">90</text>
<text class="t" x="788.57" y="369.50" font-size="17.6" fill="#1a1aff" textLength="12.39" lengthAdjust="spacingAndGlyphs" stroke="#1a1aff" stroke-width="0.5">ω</text>
<path d="M753.0 349.6 L736.6 318.6" stroke="#0000ff" stroke-width="2.5" fill="none"/>
<polygon points="734.4,314.2 741.8,320.2 734.8,324.0" fill="#0000ff"/>
<rect x="72.2" y="468.8" width="715.2" height="53" fill="#0000fe"/>
<text class="l" x="140.75" y="505.60" font-size="33.5" fill="#fff" font-weight="bold" textLength="95.40" lengthAdjust="spacingAndGlyphs">Sandy</text>
<text class="l" x="244.39" y="505.60" font-size="33.5" fill="#fff" font-weight="bold" textLength="29.20" lengthAdjust="spacingAndGlyphs">&amp;</text>
<text class="l" x="279.84" y="505.60" font-size="33.5" fill="#fff" font-weight="bold" textLength="130.36" lengthAdjust="spacingAndGlyphs">Gravelly</text>
<text class="l" x="415.35" y="507.00" font-size="35.5" fill="#fff" textLength="11.69" lengthAdjust="spacingAndGlyphs">:</text>
<text class="l" x="431.09" y="506.20" font-size="33" fill="#fff" textLength="22.32" lengthAdjust="spacingAndGlyphs">α</text>
<text class="j" x="452.72" y="508.80" font-size="40" fill="#fff" textLength="39.86" lengthAdjust="spacingAndGlyphs">＝</text>
<text class="l" x="492.48" y="506.00" font-size="33" fill="#fff" font-weight="bold" textLength="59.64" lengthAdjust="spacingAndGlyphs">240</text>
<text class="l" x="552.00" y="506.20" font-size="33" fill="#fff" textLength="26.33" lengthAdjust="spacingAndGlyphs">ω</text>
<text class="l" x="578.14" y="495.80" font-size="22.5" fill="#fff" font-weight="bold" textLength="33.26" lengthAdjust="spacingAndGlyphs">1.5</text>
<text class="j" x="612.67" y="507.70" font-size="39" fill="#fff" textLength="38.65" lengthAdjust="spacingAndGlyphs">＋</text>
<text class="l" x="651.12" y="506.00" font-size="33" fill="#fff" font-weight="bold" textLength="41.80" lengthAdjust="spacingAndGlyphs">90</text>
<text class="l" x="692.70" y="506.20" font-size="33" fill="#fff" textLength="26.33" lengthAdjust="spacingAndGlyphs">ω</text>
<text class="s" x="164.62" y="570.80" font-size="28.5" fill="#000" textLength="21.37" lengthAdjust="spacingAndGlyphs">ω</text>
<text class="t" x="186.48" y="570.80" font-size="26.6" fill="#000" textLength="21.81" lengthAdjust="spacingAndGlyphs">=</text>
<text class="t" x="206.72" y="570.80" font-size="26.6" fill="#000" textLength="43.16" lengthAdjust="spacingAndGlyphs">1.0</text>
<text class="l" x="249.45" y="565.00" font-size="26.5" fill="#000" textLength="46.10" lengthAdjust="spacingAndGlyphs">→</text>
<text class="s" x="295.31" y="570.80" font-size="28.5" fill="#000" textLength="17.18" lengthAdjust="spacingAndGlyphs">α</text>
<text class="t" x="312.10" y="570.80" font-size="26.6" fill="#000" textLength="21.68" lengthAdjust="spacingAndGlyphs">=</text>
<text class="t" x="340.74" y="570.80" font-size="26.6" fill="#000" textLength="59.65" lengthAdjust="spacingAndGlyphs">330,</text>
<text class="s" x="417.32" y="570.80" font-size="28.5" fill="#000" textLength="21.37" lengthAdjust="spacingAndGlyphs">ω</text>
<text class="t" x="439.43" y="570.80" font-size="26.6" fill="#000" textLength="21.41" lengthAdjust="spacingAndGlyphs">=</text>
<text class="t" x="460.15" y="570.80" font-size="26.6" fill="#000" textLength="42.41" lengthAdjust="spacingAndGlyphs">2.0</text>
<text class="l" x="502.08" y="565.00" font-size="26.5" fill="#000" textLength="46.44" lengthAdjust="spacingAndGlyphs">→</text>
<text class="s" x="548.52" y="570.80" font-size="28.5" fill="#000" textLength="16.95" lengthAdjust="spacingAndGlyphs">α</text>
<text class="t" x="564.98" y="570.80" font-size="26.6" fill="#000" textLength="21.81" lengthAdjust="spacingAndGlyphs">=</text>
<text class="t" x="594.42" y="570.80" font-size="26.6" fill="#000" textLength="50.12" lengthAdjust="spacingAndGlyphs">858</text>
<rect x="107.7" y="613" width="139" height="2" fill="#8c8cff"/>
<rect x="246.4" y="613" width="527.6" height="2.2" fill="#1a1aff"/>
<rect x="2" y="563" width="67" height="72" fill="#fff"/>
<rect x="2" y="632" width="243" height="24" fill="#fff"/>
<circle cx="37.2" cy="568.5" r="3.9" fill="#d8000f"/>
<rect x="33.5" y="575.6" width="7.6" height="46.2" fill="#0a62ad"/>
<path d="M27.2 584.5 A9.1 9.1 0 1 0 34.2 600.5" stroke="#0a62ad" stroke-width="7.2" fill="none"/>
<circle cx="45.8" cy="599.5" r="9.6" stroke="#0a62ad" stroke-width="6.6" fill="none"/>
<path d="M7.2 633.6 Q37 614.6 66 633.6 Q37 620.4 7.2 633.6Z" fill="#169a3a"/>
<text class="l" x="4.64" y="651.60" font-size="16.5" fill="#1e1e1e" font-weight="bold" textLength="57.09" lengthAdjust="spacingAndGlyphs">JAPAN</text>
<text class="l" x="67.26" y="651.60" font-size="16.5" fill="#1e1e1e" font-weight="bold" textLength="37.02" lengthAdjust="spacingAndGlyphs">PILE</text>
<text class="l" x="110.05" y="651.60" font-size="16.5" fill="#1e1e1e" font-weight="bold" textLength="128.23" lengthAdjust="spacingAndGlyphs">CORPORATION</text>
<rect x="803" y="565" width="75" height="91" fill="#fff"/>
<rect x="804.6" y="568.6" width="72.4" height="67.4" rx="2.6" fill="#3a3c8e"/>
<rect x="810.6" y="575" width="60.3" height="55.8" fill="#fff"/>
<path d="M827.4 574.5 V585.6 Q838 576.8 849 576.6 Q860 576.6 871.2 581.4 V574.5 Z" fill="#3a3c8e"/>
<path d="M827.4 631.2 Q836 606.6 871.2 607.2 V613.4 Q843 612.6 833.6 631.2 Z" fill="#3a3c8e"/>
<text class="l" x="805.10" y="652.80" font-size="14.6" fill="#3a3c8e" font-weight="bold" textLength="45.53" lengthAdjust="spacingAndGlyphs">PHAN</text>
<text class="l" x="855.76" y="652.80" font-size="14.6" fill="#3a3c8e" font-weight="bold" textLength="22.90" lengthAdjust="spacingAndGlyphs">VŨ</text>
<rect x="0" y="0" width="2" height="658" fill="#000" fill-opacity="0.75"/>
<rect x="877.7" y="0" width="2.3" height="658" fill="#000" fill-opacity="0.72"/>
<rect x="0" y="0" width="880" height="1.5" fill="#000" fill-opacity="0.75"/>
<rect x="0" y="656.6" width="880" height="1.4" fill="#000" fill-opacity="0.45"/>
</svg></body></html>
